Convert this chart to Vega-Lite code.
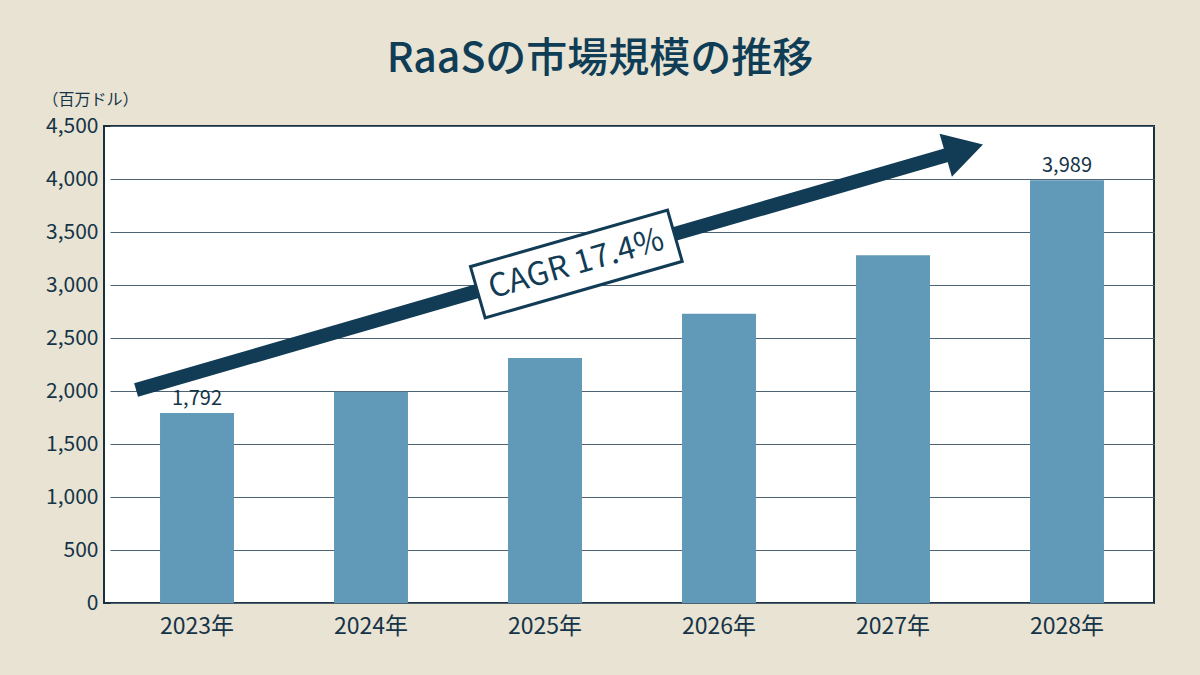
{
  "$schema": "https://vega.github.io/schema/vega-lite/v6.json",
  "width": 1050,
  "height": 477,
  "autosize": {"type": "none"},
  "padding": {"left": 104, "top": 126, "right": 46, "bottom": 72},
  "background": "#e8e3d3",
  "title": {
    "text": "RaaSの市場規模の推移",
    "font": "Noto Sans CJK JP",
    "fontSize": 41,
    "fontWeight": 500,
    "color": "#0f3d56",
    "anchor": "middle",
    "dx": -29,
    "dy": 53,
    "offset": 22,
    "baseline": "bottom"
  },
  "config": {
    "view": {"stroke": "#1b2f3c", "strokeWidth": 2, "fill": "#ffffff"},
    "font": "Noto Sans CJK JP"
  },
  "datasets": {
    "bars": [
      {"year": "2023年", "value": 1792, "label": "1,792"},
      {"year": "2024年", "value": 1993, "label": ""},
      {"year": "2025年", "value": 2311, "label": ""},
      {"year": "2026年", "value": 2729, "label": ""},
      {"year": "2027年", "value": 3280, "label": ""},
      {"year": "2028年", "value": 3989, "label": "3,989"}
    ],
    "arrow": [
      {"t": 2022.65, "v": 2009, "t2": 2027.41, "v2": 4274}
    ],
    "cagr": [
      {"t": 2025.18, "v": 3198, "label": "CAGR 17.4%"}
    ]
  },
  "resolve": {"scale": {"x": "independent"}, "axis": {"x": "independent"}},
  "layer": [
    {
      "data": {"name": "bars"},
      "encoding": {
        "x": {
          "field": "year",
          "type": "nominal",
          "sort": null,
          "scale": {"range": [6, 1050], "paddingInner": 0.575, "paddingOuter": 0.2875},
          "axis": {
            "title": null,
            "labelAngle": 0,
            "labelFontSize": 23,
            "labelColor": "#163447",
            "labelPadding": 12,
            "ticks": false,
            "domain": false,
            "grid": false
          }
        },
        "y": {
          "field": "value",
          "type": "quantitative",
          "scale": {"domain": [0, 4500], "nice": false},
          "axis": {
            "title": "（百万ドル）",
            "titleAngle": 0,
            "titleAlign": "left",
            "titleBaseline": "middle",
            "titleX": -62,
            "titleY": -27,
            "titleFontSize": 16,
            "titleFontWeight": "normal",
            "titleColor": "#163447",
            "values": [0, 500, 1000, 1500, 2000, 2500, 3000, 3500, 4000, 4500],
            "format": ",.0f",
            "labelFontSize": 21,
            "labelColor": "#163447",
            "labelPadding": 6,
            "ticks": false,
            "domain": false,
            "grid": true,
            "gridColor": "#4d6272",
            "gridWidth": 1.2
          }
        }
      },
      "layer": [
        {"mark": {"type": "bar", "color": "#6199b8"}},
        {
          "mark": {"type": "text", "baseline": "bottom", "dy": -4, "fontSize": 20, "color": "#163447"},
          "encoding": {"text": {"field": "label"}}
        }
      ]
    },
    {
      "data": {"name": "arrow"},
      "layer": [
        {
          "mark": {"type": "rule", "color": "#123c55", "strokeWidth": 14, "strokeCap": "butt"},
          "encoding": {
            "x": {"field": "t", "type": "quantitative", "scale": {"domain": [2022.5, 2028.5], "range": [6, 1050], "nice": false, "zero": false}, "axis": null},
            "y": {"field": "v", "type": "quantitative"},
            "x2": {"field": "t2"},
            "y2": {"field": "v2"}
          }
        },
        {
          "mark": {"type": "point", "shape": "triangle-right", "filled": true, "color": "#123c55", "opacity": 1, "size": 2000, "angle": -16},
          "encoding": {
            "x": {"field": "t2", "type": "quantitative", "scale": {"domain": [2022.5, 2028.5], "range": [6, 1050], "nice": false, "zero": false}, "axis": null},
            "y": {"field": "v2", "type": "quantitative"}
          }
        }
      ]
    },
    {
      "data": {"name": "cagr"},
      "encoding": {
        "x": {"field": "t", "type": "quantitative", "scale": {"domain": [2022.5, 2028.5], "range": [6, 1050], "nice": false, "zero": false}, "axis": null},
        "y": {"field": "v", "type": "quantitative"}
      },
      "layer": [
        {
          "mark": {"type": "point", "shape": "M-1,-0.26L1,-0.26L1,0.26L-1,0.26Z", "filled": false, "fill": "#ffffff", "fillOpacity": 1, "stroke": "#123c55", "strokeWidth": 3, "opacity": 1, "size": 42025, "angle": -16}
        },
        {
          "mark": {"type": "text", "angle": -16, "fontSize": 32, "color": "#123c55", "align": "center", "baseline": "middle"},
          "encoding": {"text": {"field": "label"}}
        }
      ]
    }
  ]
}
